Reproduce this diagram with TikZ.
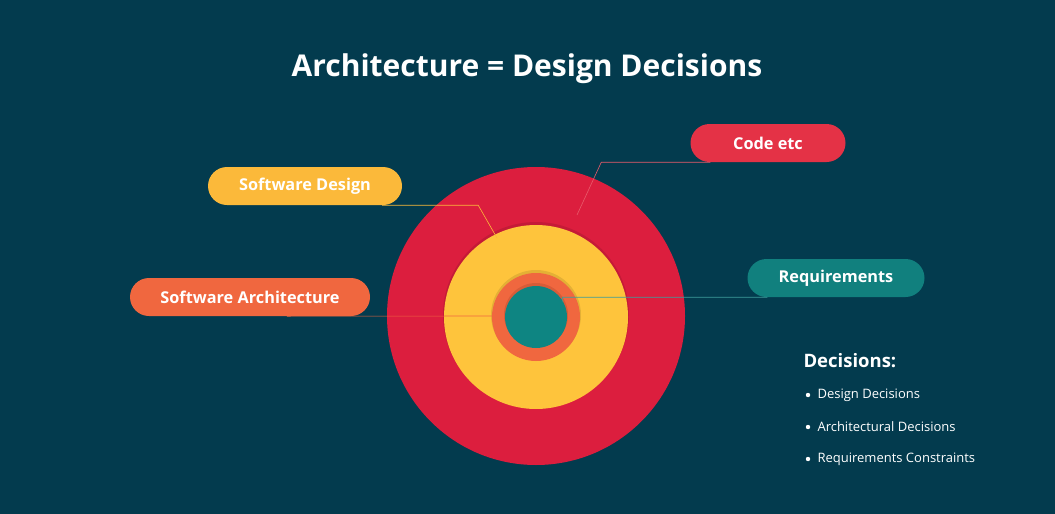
\documentclass[tikz,border=0pt]{standalone}
\usepackage{fontspec}
\setmainfont{Open Sans}
\definecolor{bgnavy}{RGB}{3,59,78}
\definecolor{ringred}{RGB}{220,30,62}
\definecolor{pillred}{RGB}{228,50,70}
\definecolor{ringyellow}{RGB}{254,196,60}
\definecolor{pillyellow}{RGB}{251,185,58}
\definecolor{ringorange}{RGB}{240,103,63}
\definecolor{ringteal}{RGB}{14,133,130}
\definecolor{pillteal}{RGB}{17,128,126}
\tikzset{
    pill/.style={rounded corners=19pt, minimum height=38pt, text=white,
        font=\fontsize{16.3}{16.3}\selectfont\bfseries, inner sep=0pt},
    ring/.style={circle, inner sep=0pt},
    ringshadow/.style={circle, inner sep=0pt, fill=black, opacity=0.1},
    leader/.style={line width=0.6pt},
    bulletitem/.style={anchor=west, text=white, font=\fontsize{13}{13}\selectfont},
}
\begin{document}
\begin{tikzpicture}[x=1pt, y=-1pt]
    \useasboundingbox[fill=bgnavy] (0,0) rectangle (1055,514);

    % 标题
    \node[text=white, font=\fontsize{30}{30}\selectfont\bfseries] (title) at (527,69) {Architecture = Design Decisions};

    % 同心圆
    \node[ring, fill=ringred, minimum size=298pt] (outer) at (536,316) {};
    \node[ringshadow, minimum size=186pt] at (536,315) {};
    \node[ring, fill=ringyellow, minimum size=184pt] (yellow) at (536,317) {};
    \node[ringshadow, minimum size=90pt] at (536,315) {};
    \node[ring, fill=ringorange, minimum size=88pt] (orange) at (536,317) {};
    \node[ringshadow, minimum size=64pt] at (536,315) {};
    \node[ring, fill=ringteal, minimum size=62pt] (core) at (536,317) {};

    % 标签
    \node[pill, fill=pillred, minimum width=155pt] (code) at (768,143) {Code etc};
    \node[pill, fill=pillyellow, minimum width=194pt] (design) at (305,186) {Software Design};
    \node[pill, fill=ringorange, minimum width=240pt] (arch) at (250,297) {Software Architecture};
    \node[pill, fill=pillteal, minimum width=177pt] (req) at (836,278) {Requirements};

    % 引线
    \coordinate (codeend) at (577,215);
    \coordinate (designend) at (497,238);
    \coordinate (archend) at (492,316);
    \coordinate (reqend) at (563,302);
    \draw[leader, draw=pillred!80!white] ([xshift=20pt]code.south west) -- ++(-109,0) -- (codeend);
    \draw[leader, draw=pillyellow] ([xshift=-20pt]design.south east) -- ++(96,0) -- (designend);
    \draw[leader, draw=ringorange] ([xshift=157pt]arch.south west) -- (archend);
    \draw[leader, draw=ringteal!80!white] ([xshift=20pt]req.south west) -- ++(-205,0) -- (reqend);

    % 决策列表
    \node[anchor=west, text=white, font=\fontsize{18.5}{18.5}\selectfont\bfseries] (dechead) at (800,361) {Decisions:};
    \foreach \y/\txt [count=\i] in {395/Design Decisions, 427/Architectural Decisions, 459/Requirements Constraints} {
        \fill[white] (808,\y) circle (2.2pt);
        \node[bulletitem] (item\i) at (814,\y) {\txt};
    }
\end{tikzpicture}
\end{document}
